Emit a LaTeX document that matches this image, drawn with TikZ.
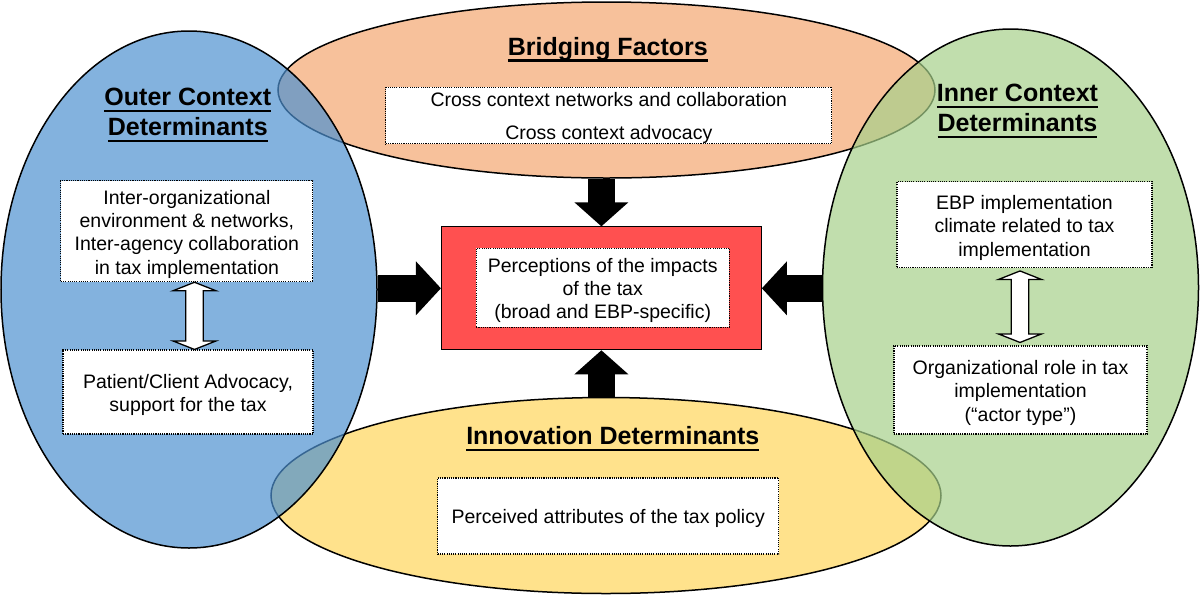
\documentclass[tikz,border=0pt]{standalone}
\usepackage{fontspec}
\setmainfont{Liberation Sans}
\usetikzlibrary{shapes.geometric,calc}
\definecolor{orangefill}{RGB}{247,193,155}
\definecolor{yellowfill}{RGB}{255,226,140}
\definecolor{bluefill}{RGB}{78,145,208}
\definecolor{greenfill}{RGB}{166,208,138}
\definecolor{redfill}{RGB}{255,80,80}
\newcommand\bodyfont{\fontsize{19.5}{23.3}\selectfont}
\newcommand\titlefont{\bfseries\fontsize{25}{30}\selectfont}
\newcommand\ulin[1]{\setbox0\hbox{#1}\rlap{\rule[-6.4pt]{\wd0}{2.4pt}}\box0}
\newcommand\fstrut{\rule{0pt}{19.8pt}}
\newcommand\dblvarrow[2]{%
  \draw[hollowarrow] (#1) -- ($(#1)+(21.5,8.5)$) -- ($(#1)+(8.8,8.5)$) --
    ($(#2)+(8.8,-8.5)$) -- ($(#2)+(21.5,-8.5)$) -- (#2) --
    ($(#2)+(-21.5,-8.5)$) -- ($(#2)+(-8.8,-8.5)$) --
    ($(#1)+(-8.8,8.5)$) -- ($(#1)+(-21.5,8.5)$) -- cycle;}
\tikzset{
  ell/.style={ellipse, draw=black, line width=1.5pt, inner sep=0pt},
  dotbox/.style={draw=black, fill=white, line width=1.1pt,
    dash pattern=on 1.1pt off 1.1pt, align=center, inner sep=0pt, font=\bodyfont},
  titletext/.style={align=center, inner sep=0pt, font=\titlefont},
  redbox/.style={draw=black, fill=redfill, line width=1pt, inner sep=0pt},
  hollowarrow/.style={draw=black, fill=white, line width=1.3pt, line join=miter},
  shaft/.style={line width=27pt, black},
}
\begin{document}
\begin{tikzpicture}[x=1pt,y=-1pt]
\useasboundingbox (0,0) rectangle (1200,598);
% ellipses
\node[ell, fill=orangefill, minimum width=657pt, minimum height=176pt] (bridge) at (606.5,90) {};
\node[ell, fill=yellowfill, minimum width=670pt, minimum height=196pt] (innov) at (606,495.5) {};
\node[ell, fill=bluefill, fill opacity=0.7, minimum width=376pt, minimum height=517pt] (blue) at (189,289.5) {};
\node[ell, fill=greenfill, fill opacity=0.7, minimum width=376pt, minimum height=517pt] (green) at (1010.5,287.5) {};
% titles
\node[titletext] (tbridge) at (607.8,49.5) {\ulin{Bridging Factors}};
\node[titletext] (touter) at (187.8,115) {\ulin{Outer Context}\\\ulin{Determinants}};
\node[titletext] (tinner) at (1017.5,111.3) {\ulin{Inner Context}\\\ulin{Determinants}};
\node[titletext] (tinnov) at (612.8,439) {\ulin{Innovation Determinants}};
% text boxes
\node[dotbox, minimum width=446pt, minimum height=55pt] (bb) at (608.8,115.5)
  {\fstrut Cross context networks and collaboration\\[9.7pt]Cross context advocacy};
\node[dotbox, minimum width=252pt, minimum height=101pt] (lb1) at (186.9,231.2)
  {\fstrut Inter-organizational\\environment \& networks,\\Inter-agency collaboration\\in tax implementation};
\node[dotbox, minimum width=250pt, minimum height=84pt] (lb2) at (188,392)
  {\fstrut Patient/Client Advocacy,\\support for the tax};
\node[dotbox, minimum width=255pt, minimum height=86pt] (rb1) at (1024.5,224.9)
  {\fstrut EBP implementation\\climate related to tax\\implementation};
\node[dotbox, minimum width=253pt, minimum height=88pt] (rb2) at (1020.5,390)
  {\fstrut Organizational role in tax\\implementation\\(“actor type”)};
\node[dotbox, minimum width=341pt, minimum height=76pt] (ib) at (608.2,516)
  {\fstrut Perceived attributes of the tax policy};
% centre
\node[redbox, minimum width=320pt, minimum height=123pt] (red) at (601.4,288.3) {};
\node[dotbox, minimum width=253pt, minimum height=79pt] (cb) at (602.7,287.8)
  {\fstrut Perceptions of the impacts\\of the tax\\(broad and EBP-specific)};
% hollow double arrows
\coordinate (lat) at ($(lb1.south)+(7.6,0)$);
\coordinate (lab) at (lat |- lb2.north);
\dblvarrow{lat}{lab}
\coordinate (rat) at ($(rb1.south)+(-4.5,2.5)$);
\coordinate (rab0) at (rat |- rb2.north);
\coordinate (rab) at ($(rab0)+(0,-3)$);
\dblvarrow{rat}{rab}
% black block arrows
\draw[shaft] (blue.east |- red.west) -- ($(red.west)+(-24,0)$);
\fill[black] (red.west) -- ($(red.west)+(-25,-27)$) -- ($(red.west)+(-25,27)$) -- cycle;
\draw[shaft] (green.west |- red.east) -- ($(red.east)+(24,0)$);
\fill[black] (red.east) -- ($(red.east)+(25,-27)$) -- ($(red.east)+(25,27)$) -- cycle;
\draw[shaft] (red.north |- bridge.south) -- ($(red.north)+(0,-23)$);
\fill[black] (red.north) -- ($(red.north)+(-27,-24)$) -- ($(red.north)+(27,-24)$) -- cycle;
\draw[shaft] (red.south |- innov.north) -- ($(red.south)+(0,23)$);
\fill[black] (red.south) -- ($(red.south)+(-27,24)$) -- ($(red.south)+(27,24)$) -- cycle;
\end{tikzpicture}
\end{document}
